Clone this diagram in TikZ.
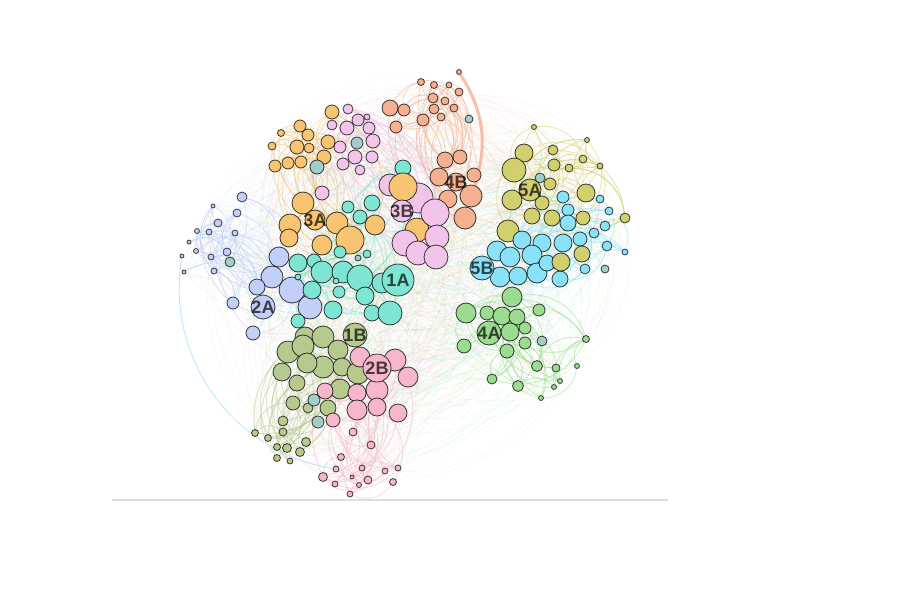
\documentclass[tikz,border=0pt]{standalone}
\usepackage{fontspec}
\setmainfont{Liberation Sans}
\pgfdeclarelayer{links}
\pgfsetlayers{links,main}
\definecolor{c1A}{HTML}{7EE5D3}
\definecolor{c1B}{HTML}{B6C98F}
\definecolor{c2A}{HTML}{C2D0F9}
\definecolor{c2B}{HTML}{F5B7C9}
\definecolor{c3A}{HTML}{F8C471}
\definecolor{c3B}{HTML}{F2C4EA}
\definecolor{c4A}{HTML}{9BDC90}
\definecolor{c4B}{HTML}{F4B08F}
\definecolor{c5A}{HTML}{D2CF6E}
\definecolor{c5B}{HTML}{8AE2F8}
\definecolor{cmix}{HTML}{A3CDCB}
\newcount\nodecount
\tikzset{
	bubble/.style={circle, draw=black, draw opacity=.75, line width=.8pt, inner sep=0pt, minimum size=2*#1},
	tag/.style={font=\fontsize{18}{18}\selectfont\bfseries, text=black, text opacity=.7, inner sep=0pt},
	link/.style={draw=#1, line width=.9pt, draw opacity=.5},
	faint/.style={draw=#1, line width=.35pt, draw opacity=.2},
}
\begin{document}
\begin{tikzpicture}[x=1pt,y=-1pt]
	\useasboundingbox (0,0) rectangle (914,614);
	\draw [line width=1.5pt, black!13] (112,500) -- (668,500);
	\pgfmathsetseed{12}
	% 4B
	\foreach \x/\y/\r in {421/82/3.5,434/85/3.5,449/85/3,459/92/4,390/108/8,404/110/6,433/98/5,445/101/4,434/109/5,454/108/4,423/120/6,441/117/4,396/127/6,445/160/8,460/157/7,439/177/9,474/175/7,448/199/9,465/218/11}
		{\global\advance\nodecount by 1 \node[bubble=\r, fill=c4B] (n\the\nodecount) at (\x,\y) {};}
	\xdef\cutA{\the\nodecount}
	\node[bubble=2.5, fill=c4B] (top4B) at (459,72) {};
	\node[bubble=11, fill=c4B] (rim4B) at (471,196) {};
	% 3A
	\foreach \x/\y/\r in {332/112/7,300/126/6,308/135/6,281/133/3.5,272/146/4,297/147/7,309/148/5,328/142/7,324/157/7,275/166/6,288/163/6,301/162/6,303/203/11,290/225/11,337/223/11,289/238/9,322/245/10,350/240/14,375/225/10,417/230/12}
		{\global\advance\nodecount by 1 \node[bubble=\r, fill=c3A] (n\the\nodecount) at (\x,\y) {};}
	\xdef\cutB{\the\nodecount}
	% 3B
	\foreach \x/\y/\r in {348/109/5,367/117/3,347/128/7,358/120/6,369/128/6,332/125/5,373/141/7,340/147/6,355/157/7,372/157/6,343/164/6,360/170/5,322/193/7,390/185/11,418/198/15,435/213/14,405/243/13,437/237/12,418/253/12,436/257/12}
		{\global\advance\nodecount by 1 \node[bubble=\r, fill=c3B] (n\the\nodecount) at (\x,\y) {};}
	\xdef\cutC{\the\nodecount}
	% 2A
	\foreach \x/\y/\r in {279/257/10,272/277/11,292/290/13,257/287/8,310/307/12,233/303/6,253/333/7,242/197/5,213/206/2,237/213/4,218/223/4,197/231/2.5,209/232/3,235/233/3,189/242/2,196/251/2.5,211/257/3,227/252/4,184/272/2,214/271/3}
		{\global\advance\nodecount by 1 \node[bubble=\r, fill=c2A] (n\the\nodecount) at (\x,\y) {};}
	\xdef\cutD{\the\nodecount}
	\node[bubble=2, fill=c2A] (tip2A) at (182,256) {};
	% 1A
	\foreach \x/\y/\r in {403/168/8,348/207/6,360/217/7,372/203/8,298/263/9,314/261/7,322/272/11,343/272/11,360/278/13,382/283/10,340/252/6,367/254/4,298/277/3,312/290/9,336/281/3,339/292/6,365/296/9,333/310/9,372/313/8,390/313/12,298/321/7}
		{\global\advance\nodecount by 1 \node[bubble=\r, fill=c1A] (n\the\nodecount) at (\x,\y) {};}
	\xdef\cutE{\the\nodecount}
	% 5A
	\foreach \x/\y/\r in {534/127/2.5,587/140/2.5,524/153/9,553/150/5,554/165/6,569/168/4,583/159/4,600/166/3,514/170/12,550/184/6,512/200/10,542/203/7,586/193/9,532/216/8,552/218/8,583/218/7,508/231/11,625/218/5}
		{\global\advance\nodecount by 1 \node[bubble=\r, fill=c5A] (n\the\nodecount) at (\x,\y) {};}
	\xdef\cutF{\the\nodecount}
	% 5B
	\foreach \x/\y/\r in {563/197/6,568/210/6,600/199/4,609/211/4,605/226/5,594/233/5,568/223/8,580/239/7,563/243/9,607/246/5,625/252/3,585/269/5,560/279/8,497/251/10,522/240/9,542/243/9,510/257/10,532/255/10,500/277/10,518/276/9,537/273/10,547/263/8}
		{\global\advance\nodecount by 1 \node[bubble=\r, fill=c5B] (n\the\nodecount) at (\x,\y) {};}
	\xdef\cutG{\the\nodecount}
	\node[bubble=8, fill=c5A] (olive1) at (582,254) {};
	\node[bubble=9, fill=c5A] (olive2) at (561,262) {};
	% 4A
	\foreach \x/\y/\r in {512/297/10,466/313/10,487/313/7,502/316/9,517/317/8,539/310/6,510/332/9,525/328/6,525/343/6,507/351/7,464/346/7,586/339/3.5,537/366/5.5,556/368/4,577/366/2.5,492/379/5,518/386/5.5,560/381/2.5,554/387/2.5,541/398/2.5}
		{\global\advance\nodecount by 1 \node[bubble=\r, fill=c4A] (n\the\nodecount) at (\x,\y) {};}
	\xdef\cutH{\the\nodecount}
	% 1B
	\foreach \x/\y/\r in {305/337/10,323/337/11,288/352/11,303/346/11,338/350/10,323/367/11,307/363/10,282/372/9,342/367/9,358/373/11,297/383/8,340/389/10,293/403/7,308/408/5,328/408/8,283/421/5,283/432/4,255/433/3.5,268/438/3.5,277/447/3.5,287/448/4.5,306/442/4.5,300/452/4.5,277/458/3.5,290/461/3}
		{\global\advance\nodecount by 1 \node[bubble=\r, fill=c1B] (n\the\nodecount) at (\x,\y) {};}
	\xdef\cutI{\the\nodecount}
	% 2B
	\foreach \x/\y/\r in {360/357/10,395/360/11,408/377/10,325/391/8,357/393/9,377/390/11,357/410/10,377/407/9,398/413/9,333/420/7,353/432/4,371/445/4,341/457/3.5,362/468/3,385/471/3,398/468/3,323/477/4.5,335/484/3,352/477/2,359/485/2.5,368/480/4,393/482/3.5,350/494/3}
		{\global\advance\nodecount by 1 \node[bubble=\r, fill=c2B] (n\the\nodecount) at (\x,\y) {};}
	\xdef\cutJ{\the\nodecount}
	\node[bubble=3, fill=c2B] (tip2B) at (336,469) {};
	% nodes between groups
	\foreach \x/\y/\r/\c in {469/119/4/cmix,317/167/7/cmix,357/143/6/cmix,230/262/5/cmix,314/400/6/cmix,318/422/6/cmix,540/178/5/cmix,605/269/4/cmix,542/341/5/cmix,358/258/3/cmix,403/187/14/c3A}
		{\global\advance\nodecount by 1 \node[bubble=\r, fill=\c] (n\the\nodecount) at (\x,\y) {};}
	\xdef\total{\the\nodecount}
	% group centres
	\node[bubble=16, fill=c1A, label={[tag]center:1A}] (h1A) at (398,280) {};
	\node[bubble=12, fill=c1B, label={[tag]center:1B}] (h1B) at (355,335) {};
	\node[bubble=12, fill=c2A, label={[tag]center:2A}] (h2A) at (263,307) {};
	\node[bubble=14, fill=c2B, label={[tag]center:2B}] (h2B) at (377,368) {};
	\node[bubble=10, fill=c3A, label={[tag]center:3A}] (h3A) at (315,220) {};
	\node[bubble=11, fill=c3B, label={[tag]center:3B}] (h3B) at (402,211) {};
	\node[bubble=12, fill=c4A, label={[tag]center:4A}] (h4A) at (489,333) {};
	\node[bubble=9, fill=c4B, label={[tag]center:4B}] (h4B) at (456,182) {};
	\node[bubble=11, fill=c5A, label={[tag]center:5A}] (h5A) at (530,190) {};
	\node[bubble=12, fill=c5B, label={[tag]center:5B}] (h5B) at (482,268) {};
	\begin{pgfonlayer}{links}
	\foreach \lo/\hi/\col in {1/\cutA/c4B,\cutA+1/\cutB/c3A,\cutB+1/\cutC/c3B,\cutC+1/\cutD/c2A,\cutD+1/\cutE/c1A,\cutE+1/\cutF/c5A,\cutF+1/\cutG/c5B,\cutG+1/\cutH/c4A,\cutH+1/\cutI/c1B,\cutI+1/\cutJ/c2B}{
		\pgfmathtruncatemacro\first{\lo}
		\pgfmathtruncatemacro\last{\hi}
		\foreach \k in {1,...,55}{
			\pgfmathtruncatemacro\i{random(\first,\last)}
			\pgfmathtruncatemacro\j{\first+mod(\i-\first+random(1,\last-\first),\last-\first+1)}
			\draw [link=\col] (n\i) to[bend left=40] (n\j);
		}
		\foreach \k in {1,...,110}{
			\pgfmathtruncatemacro\i{random(\first,\last)}
			\pgfmathtruncatemacro\j{1+mod(\i-1+random(1,\total-1),\total)}
			\draw [faint=\col] (n\i) to[bend left=30] (n\j);
		}
	}
	\draw [line width=3pt, c4B, draw opacity=.8] (top4B) to[bend left=25] (rim4B);
	\draw [line width=.8pt, c2A!80!cyan, draw opacity=.7] (tip2A) to[bend right=45] (tip2B);
	\end{pgfonlayer}
\end{tikzpicture}
\end{document}
